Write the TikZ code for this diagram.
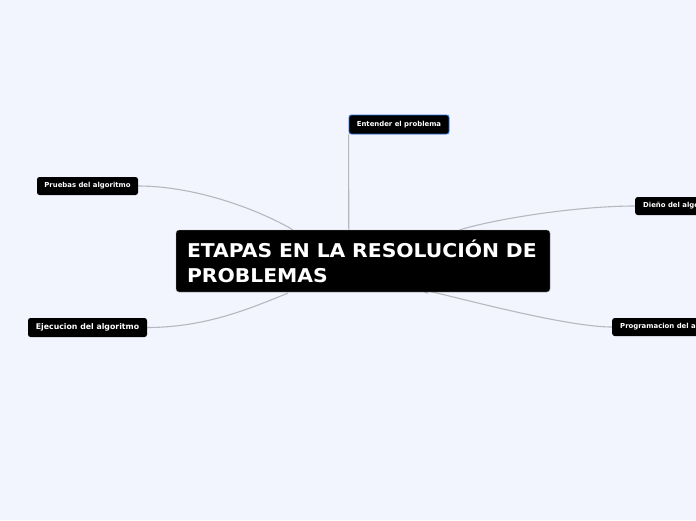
\documentclass[tikz,border=0pt]{standalone}
\usepackage{fontspec}
\setmainfont{DejaVu Sans}
\usetikzlibrary{calc,backgrounds}
\definecolor{bg}{RGB}{242,245,254}
\definecolor{link}{RGB}{182,184,190}
\definecolor{selblue}{RGB}{40,110,215}
\tikzset{
  topic/.style={fill=black, text=white, rounded corners=2.5pt, inner sep=0pt, font=\bfseries\fontsize{6.9}{8}\selectfont},
  main/.style={fill=black, draw=gray!70, line width=0.4pt, text=white, rounded corners=3pt, inner sep=0pt, font=\bfseries\fontsize{19}{25}\selectfont},
  conn/.style={draw=link, line width=1.1pt}
}
\begin{document}
\begin{tikzpicture}[x=1pt,y=-1pt]
\useasboundingbox (0,0) rectangle (696,520);
% central
\node[main, minimum width=374pt, minimum height=62pt, text width=352pt, align=left] (c) at (363,261) {\scalebox{1.07}[1]{ETAPAS EN LA RESOLUCIÓN DE}\\\scalebox{1.07}[1]{PROBLEMAS}};
% topics
\node[topic, draw=selblue, line width=0.9pt, minimum width=100pt, minimum height=19pt] (ent) at (399,124.5) {Entender el problema};
\node[topic, minimum width=101pt, minimum height=18pt] (pru) at (87.5,186) {Pruebas del algoritmo};
\node[topic, minimum width=119pt, minimum height=19pt, font=\bfseries\fontsize{7.8}{9}\selectfont] (eje) at (87.5,327.5) {Ejecucion del algoritmo};
\node[topic, minimum height=18pt, anchor=west, inner xsep=8pt] (dis) at (635,206) {Dieño del algoritmo};
\node[topic, minimum height=18pt, anchor=west, inner xsep=8pt] (pro) at (612,327) {Programacion del algoritmo};
% attach points
\coordinate (cn1) at ($(c.north west)+(117,0)$);
\coordinate (cn2) at ($(c.north west)+(173,0)$);
\coordinate (cn3) at ($(c.north west)+(284,0)$);
\coordinate (cs1) at ($(c.south west)+(112,1)$);
\coordinate (cs2) at ($(c.south west)+(252,1)$);
% connectors behind nodes
\begin{pgfonlayer}{background}
\fill[bg] (0,0) rectangle (696,520);
\path[conn] (ent.south west) -- (cn2);
\path[conn] (pru.east) .. controls +(60,0) and +(-30,-18) .. (cn1);
\path[conn] (dis.west) .. controls +(-55,0) and +(40,-12) .. (cn3);
\path[conn] (eje.east) .. controls +(60,0) and +(-35,14) .. (cs1);
\path[conn] (pro.west) .. controls +(-60,0) and +(-40,-16) .. (cs2);
\end{pgfonlayer}
\end{tikzpicture}
\end{document}
